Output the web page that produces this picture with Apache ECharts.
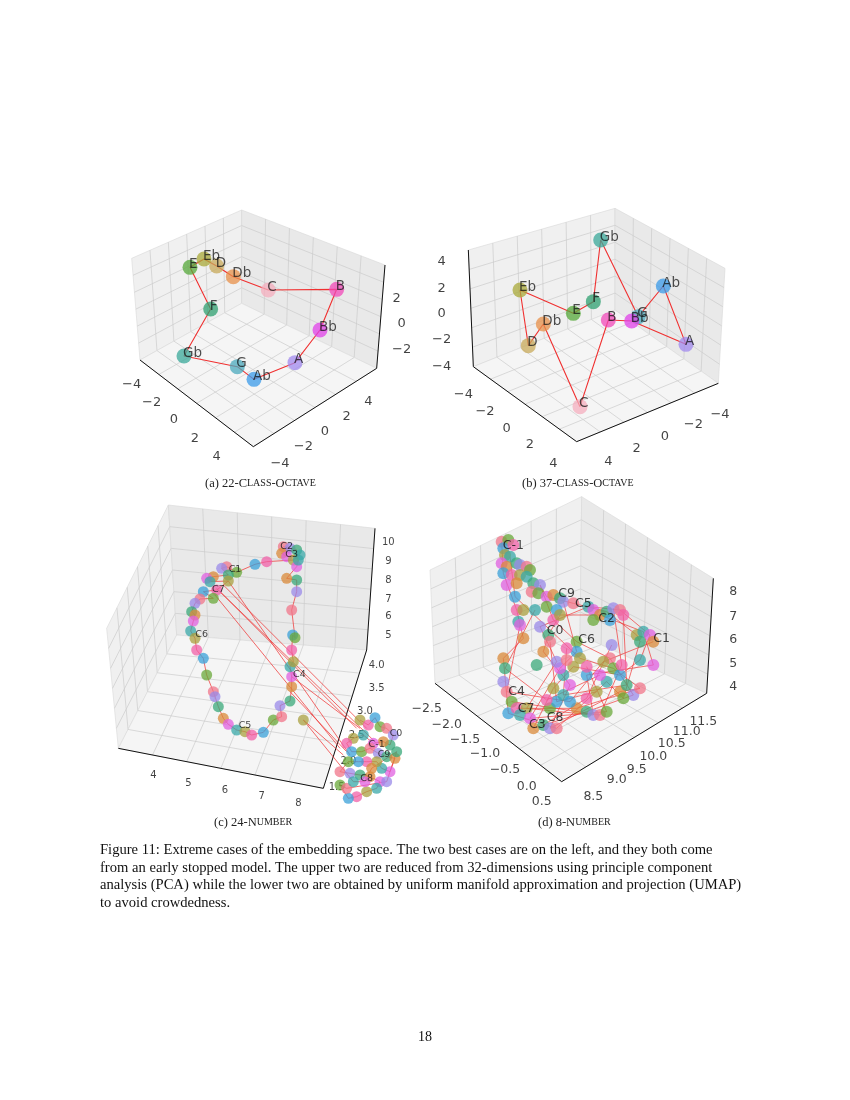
<!DOCTYPE html>
<html>
<head>
<meta charset="utf-8">
<script src="https://cdn.jsdelivr.net/npm/echarts@6/dist/echarts.min.js"></script>
<style>html,body{margin:0;background:#fff}#main{width:850px;height:1100px}</style>
</head>
<body>
<div id="main"></div>
<script>
// projected positions (panel-local units, 3 per page px)
const noteColors = {C:'#f4aebd',Db:'#e8904a',D:'#c8aa5a',Eb:'#aaaa3a',E:'#55a83a',F:'#2fa070',Gb:'#3aa89a',G:'#4aa8bc',Ab:'#3a9ae8',A:'#a088ee',Bb:'#e040e8',B:'#f048b8'}
const notesA = [['C',505,330],['Db',400,290],['D',350,258],['Eb',312,237],['E',270,262],['F',332,387],['Gb',252,528],['G',412,560],['Ab',462,598],['A',585,548],['Bb',660,450],['B',710,328]]
const notesB = [['C',450,680],['Db',340,432],['D',295,497],['Eb',270,330],['E',430,400],['F',490,365],['Gb',512,180],['G',625,410],['Ab',700,318],['A',768,493],['Bb',605,423],['B',535,420]]
const ticksA = [['−4',95,615],['−2',155,668],['0',222,720],['2',285,775],['4',350,830],['−4',540,850],['−2',610,800],['0',675,755],['2',740,710],['4',805,665],['2',890,355],['0',905,432],['−2',905,510]]
const ticksB = [['4',35,245],['2',35,325],['0',35,400],['−2',35,480],['−4',35,560],['−4',100,645],['−2',165,695],['0',230,745],['2',300,795],['4',370,850],['4',535,845],['2',620,805],['0',705,770],['−2',790,735],['−4',870,705]]
const loopC = [[550,155],[570,160],[590,165],[545,175],[560,185],[600,180],[580,195],[500,200],[465,208],[410,232],[380,215],[365,220],[385,240],[340,245],[320,250],[330,260],[385,258],[350,285],[310,290],[340,310],[300,312],[285,325],[275,350],[285,360],[280,378],[272,408],[285,430],[290,465],[310,490],[320,540],[340,590],[345,605],[355,635],[370,670],[385,688],[410,705],[435,710],[455,720],[490,712],[520,675],[545,665],[540,632],[570,618],[575,575],[575,545],[570,515],[580,500],[575,465],[578,420],[585,428],[575,345],[590,290],[590,255],[560,250],[590,215],[595,195]]
const clusterC = [[780,675],[805,690],[825,668],[840,695],[860,700],[880,720],[870,750],[850,740],[820,745],[790,720],[760,730],[740,745],[755,770],[785,770],[810,760],[835,775],[860,785],[885,790],[870,830],[845,820],[830,800],[800,800],[775,800],[745,800],[720,830],[750,835],[780,840],[810,845],[840,860],[830,880],[800,890],[770,905],[745,910],[720,870],[740,880],[860,860],[890,770],[815,820],[795,860],[760,860],[610,675]]
const longC = [[[350,280],[770,700]],[[370,270],[800,700]],[[385,258],[750,780]],[[360,290],[830,745]],[[345,300],[720,760]],[[570,590],[740,770]],[[610,675],[730,780]],[[575,545],[780,700]]]
const labelsC = [['C2',560,155],['C3',575,180],['C1',405,225],['C7',355,285],['C6',305,420],['C4',598,540],['C5',435,692],['C0',888,715],['C-1',830,750],['C9',852,778],['C8',800,850]]
const ticksC = [['10',865,143],['9',865,198],['8',865,255],['7',865,312],['6',865,365],['5',865,420],['4.0',830,510],['3.5',830,580],['3.0',795,650],['2.5',770,720],['2.0',745,800],['1.5',710,878],['4',160,840],['5',265,865],['6',375,885],['7',485,905],['8',595,925]]
const pointsD = [[245,140],[265,135],[250,160],[280,150],[255,180],[270,185],[245,205],[260,215],[290,205],[300,210],[320,215],[330,225],[250,235],[275,240],[300,240],[320,245],[260,270],[290,265],[340,265],[360,270],[335,290],[355,295],[285,305],[290,345],[310,345],[345,345],[380,305],[400,300],[420,310],[430,320],[460,325],[380,335],[410,345],[400,375],[420,360],[295,380],[300,390],[310,430],[385,420],[360,395],[390,440],[470,440],[470,470],[440,460],[480,490],[505,335],[520,345],[540,360],[560,350],[580,340],[600,345],[520,375],[570,375],[610,360],[650,420],[670,410],[690,420],[700,440],[660,440],[575,450],[570,490],[580,520],[600,540],[605,510],[550,500],[660,495],[700,510],[250,490],[255,520],[250,560],[260,590],[275,620],[265,655],[290,640],[320,640],[300,660],[330,670],[340,700],[370,690],[390,700],[410,700],[390,640],[410,620],[380,615],[400,580],[430,600],[450,570],[470,640],[500,650],[520,660],[540,660],[560,650],[450,620],[500,610],[530,590],[560,560],[540,540],[600,590],[620,570],[640,600],[660,580],[610,610],[500,540],[500,515],[460,515],[430,540],[420,520],[370,470],[350,510],[410,500],[440,495]]
const edgesD = [[0,12],[12,23],[23,37],[37,67],[67,72],[72,80],[80,95],[95,101],[101,58],[58,54],[54,48],[48,30],[30,26],[26,19],[19,33],[33,41],[41,60],[60,99],[99,88],[88,77],[77,84],[84,104],[104,62],[62,65],[65,56],[56,50],[50,45],[45,39],[39,109],[109,74],[74,89],[89,102],[102,66],[66,55],[55,47],[47,34],[34,38],[38,107],[107,86],[86,79],[79,97],[97,100],[100,61],[61,44],[44,22],[22,5],[36,70],[70,92],[92,64],[64,57],[43,85],[85,98],[98,53],[29,42],[42,106],[106,76],[76,91],[91,103],[25,68],[68,83],[83,96],[71,90],[90,63],[63,49],[78,93],[93,59],[73,87],[87,100],[40,82],[82,94]]
const labelsD = [['C-1',280,152],['C9',440,295],['C5',490,325],['C2',560,372],['C1',725,430],['C0',405,408],['C6',500,435],['C4',290,590],['C7',318,642],['C8',405,668],['C3',352,688]]
const ticksD = [['8',940,290],['7',940,365],['6',940,435],['5',940,505],['4',940,575],['−2.5',20,640],['−2.0',80,688],['−1.5',135,735],['−1.0',195,775],['−0.5',255,825],['0.0',320,875],['0.5',365,920],['8.5',520,905],['9.0',590,855],['9.5',650,825],['10.0',700,785],['10.5',755,745],['11.0',800,710],['11.5',850,680]]
const palette = ['#f0768a','#d98a3a','#aaa040','#6aa83a','#3aa87a','#3aa8a8','#3aa0d8','#9a8ae8','#e060e0','#f060a8']

const panels = [
  {left:100,top:180,w:320,h:310,box:{L:[120,540],F:[460,800],R:[830,565],K:[425,370],LT:[95,235],KT:[425,90],RT:[855,255]},z:'R'},
  {left:430,top:180,w:320,h:310,box:{L:[130,560],F:[440,785],R:[865,610],K:[555,390],LT:[115,210],KT:[555,85],RT:[885,265]},z:'L'},
  {left:100,top:495,w:320,h:340,box:{L:[55,760],F:[670,880],R:[800,465],K:[230,420],LT:[20,400],KT:[205,30],RT:[825,100]},z:'R'},
  {left:420,top:495,w:330,h:340,box:{L:[45,565],F:[425,860],R:[860,595],K:[480,420],LT:[30,225],KT:[485,5],RT:[880,250]},z:'R'}
]
const myChart = echarts.init(document.getElementById('main'))
const lerp = (a,b,t)=>[a[0]+(b[0]-a[0])*t,a[1]+(b[1]-a[1])*t]
const grid=[],xAxis=[],yAxis=[],series=[]
panels.forEach((p,i)=>{
  grid.push({left:p.left,top:p.top,width:p.w,height:p.h})
  xAxis.push({type:'value',gridIndex:i,min:0,max:p.w*3,show:false})
  yAxis.push({type:'value',gridIndex:i,min:0,max:p.h*3,inverse:true,show:false})
  const b=p.box
  series.push({type:'custom',xAxisIndex:i,yAxisIndex:i,silent:true,z:1,data:[[0,0]],renderItem:(params,api)=>{
    const c=q=>api.coord(q), ch=[]
    const quad=(q,fill)=>{
      ch.push({type:'polygon',shape:{points:q.map(c)},style:{fill:fill,stroke:'#d8d8d8',lineWidth:0.6}})
      for(let k=1;k<6;k++){const t=k/6
        ch.push({type:'line',shape:{x1:c(lerp(q[0],q[1],t))[0],y1:c(lerp(q[0],q[1],t))[1],x2:c(lerp(q[3],q[2],t))[0],y2:c(lerp(q[3],q[2],t))[1]},style:{stroke:'#cccccc',lineWidth:0.7}})
        ch.push({type:'line',shape:{x1:c(lerp(q[0],q[3],t))[0],y1:c(lerp(q[0],q[3],t))[1],x2:c(lerp(q[1],q[2],t))[0],y2:c(lerp(q[1],q[2],t))[1]},style:{stroke:'#cccccc',lineWidth:0.7}})
      }
    }
    quad([b.L,b.K,b.KT,b.LT],'#f0f0f0')
    quad([b.K,b.R,b.RT,b.KT],'#e9e9e9')
    quad([b.L,b.F,b.R,b.K],'#f5f5f5')
    const edge=(u,v)=>ch.push({type:'line',shape:{x1:c(u)[0],y1:c(u)[1],x2:c(v)[0],y2:c(v)[1]},style:{stroke:'#111',lineWidth:1}})
    edge(b.L,b.F);edge(b.F,b.R)
    if(p.z==='R')edge(b.R,b.RT);else edge(b.L,b.LT)
    return {type:'group',children:ch}
  }})
})
const tickSeries=(i,t)=>({type:'scatter',xAxisIndex:i,yAxisIndex:i,symbolSize:0,silent:true,z:3,data:t.map(d=>({value:[d[1],d[2]],name:d[0]})),label:{show:true,formatter:'{b}',position:'inside',color:'#111',fontSize:i<2?13:(i==2?10:12.5),fontFamily:'DejaVu Sans'}})
const noteSeries=(i,arr)=>[
  {type:'line',xAxisIndex:i,yAxisIndex:i,z:4,symbol:'none',lineStyle:{color:'#f03030',width:1.1},data:arr.concat([arr[0]]).map(d=>[d[1],d[2]])},
  {type:'scatter',xAxisIndex:i,yAxisIndex:i,z:5,symbolSize:15,data:arr.map(d=>({value:[d[1],d[2]],name:d[0],itemStyle:{color:noteColors[d[0]],opacity:0.75}})),label:{show:true,formatter:'{b}',position:'inside',align:'left',offset:[-1,-3],color:'#111',fontSize:13.5,fontFamily:'DejaVu Sans'}}
]
series.push(...noteSeries(0,notesA),...noteSeries(1,notesB),tickSeries(0,ticksA),tickSeries(1,ticksB),tickSeries(2,ticksC),tickSeries(3,ticksD))
// panel c
series.push({type:'line',xAxisIndex:2,yAxisIndex:2,z:4,symbol:'none',lineStyle:{color:'#f03030',width:0.9,opacity:0.8},data:loopC})
series.push({type:'line',xAxisIndex:2,yAxisIndex:2,z:4,symbol:'none',lineStyle:{color:'#f03030',width:0.9,opacity:0.8},data:clusterC})
longC.forEach(s=>series.push({type:'line',xAxisIndex:2,yAxisIndex:2,z:4,symbol:'none',lineStyle:{color:'#f03030',width:0.9,opacity:0.8},data:s}))
series.push({type:'scatter',xAxisIndex:2,yAxisIndex:2,z:5,symbolSize:11,data:loopC.concat(clusterC).map((d,k)=>({value:d,itemStyle:{color:palette[(k*7)%10],opacity:0.75}}))})
// panel d
edgesD.forEach(e=>series.push({type:'line',xAxisIndex:3,yAxisIndex:3,z:4,symbol:'none',lineStyle:{color:'#f03030',width:0.9,opacity:0.75},data:[pointsD[e[0]],pointsD[e[1]]]}))
series.push({type:'scatter',xAxisIndex:3,yAxisIndex:3,z:5,symbolSize:12,data:pointsD.map((d,k)=>({value:d,itemStyle:{color:palette[(k*3)%10],opacity:0.75}}))})
const lab=(i,arr,fs)=>({type:'scatter',xAxisIndex:i,yAxisIndex:i,z:6,symbolSize:0,data:arr.map(d=>({value:[d[1],d[2]],name:d[0]})),label:{show:true,formatter:'{b}',position:'inside',color:'#111',fontSize:fs,fontFamily:'DejaVu Sans'}})
series.push(lab(2,labelsC,9.5),lab(3,labelsD,12.5))

const cap=(x,y,l,n,rest)=>({type:'text',left:x,top:y,style:{text:'{n|'+l+' '+n+'}'+rest,fill:'#222',rich:{n:{fontSize:12.5,fontFamily:'Liberation Serif'},b:{fontSize:12.5,fontFamily:'Liberation Serif'},s:{fontSize:10,fontFamily:'Liberation Serif'}}}})
const body=['Figure 11: Extreme cases of the embedding space. The two best cases are on the left, and they both come','from an early stopped model. The upper two are reduced from 32-dimensions using principle component','analysis (PCA) while the lower two are obtained by uniform manifold approximation and projection (UMAP)','to avoid crowdedness.']
myChart.setOption({
  animation:false,
  grid,xAxis,yAxis,series,
  graphic:[
    cap(205,477,'(a)','22-C','{s|LASS}{b|-O}{s|CTAVE}'),
    cap(522,477,'(b)','37-C','{s|LASS}{b|-O}{s|CTAVE}'),
    cap(214,816,'(c)','24-N','{s|UMBER}'),
    cap(538,816,'(d)','8-N','{s|UMBER}'),
    ...body.map((t,k)=>({type:'text',left:100,top:843+k*17.5,style:{text:t,fontSize:14.6,fontFamily:'Liberation Serif',fill:'#111'}})),
    {type:'text',left:418,top:1030,style:{text:'18',fontSize:14,fontFamily:'Liberation Serif',fill:'#111'}}
  ]
})
</script>
</body>
</html>
